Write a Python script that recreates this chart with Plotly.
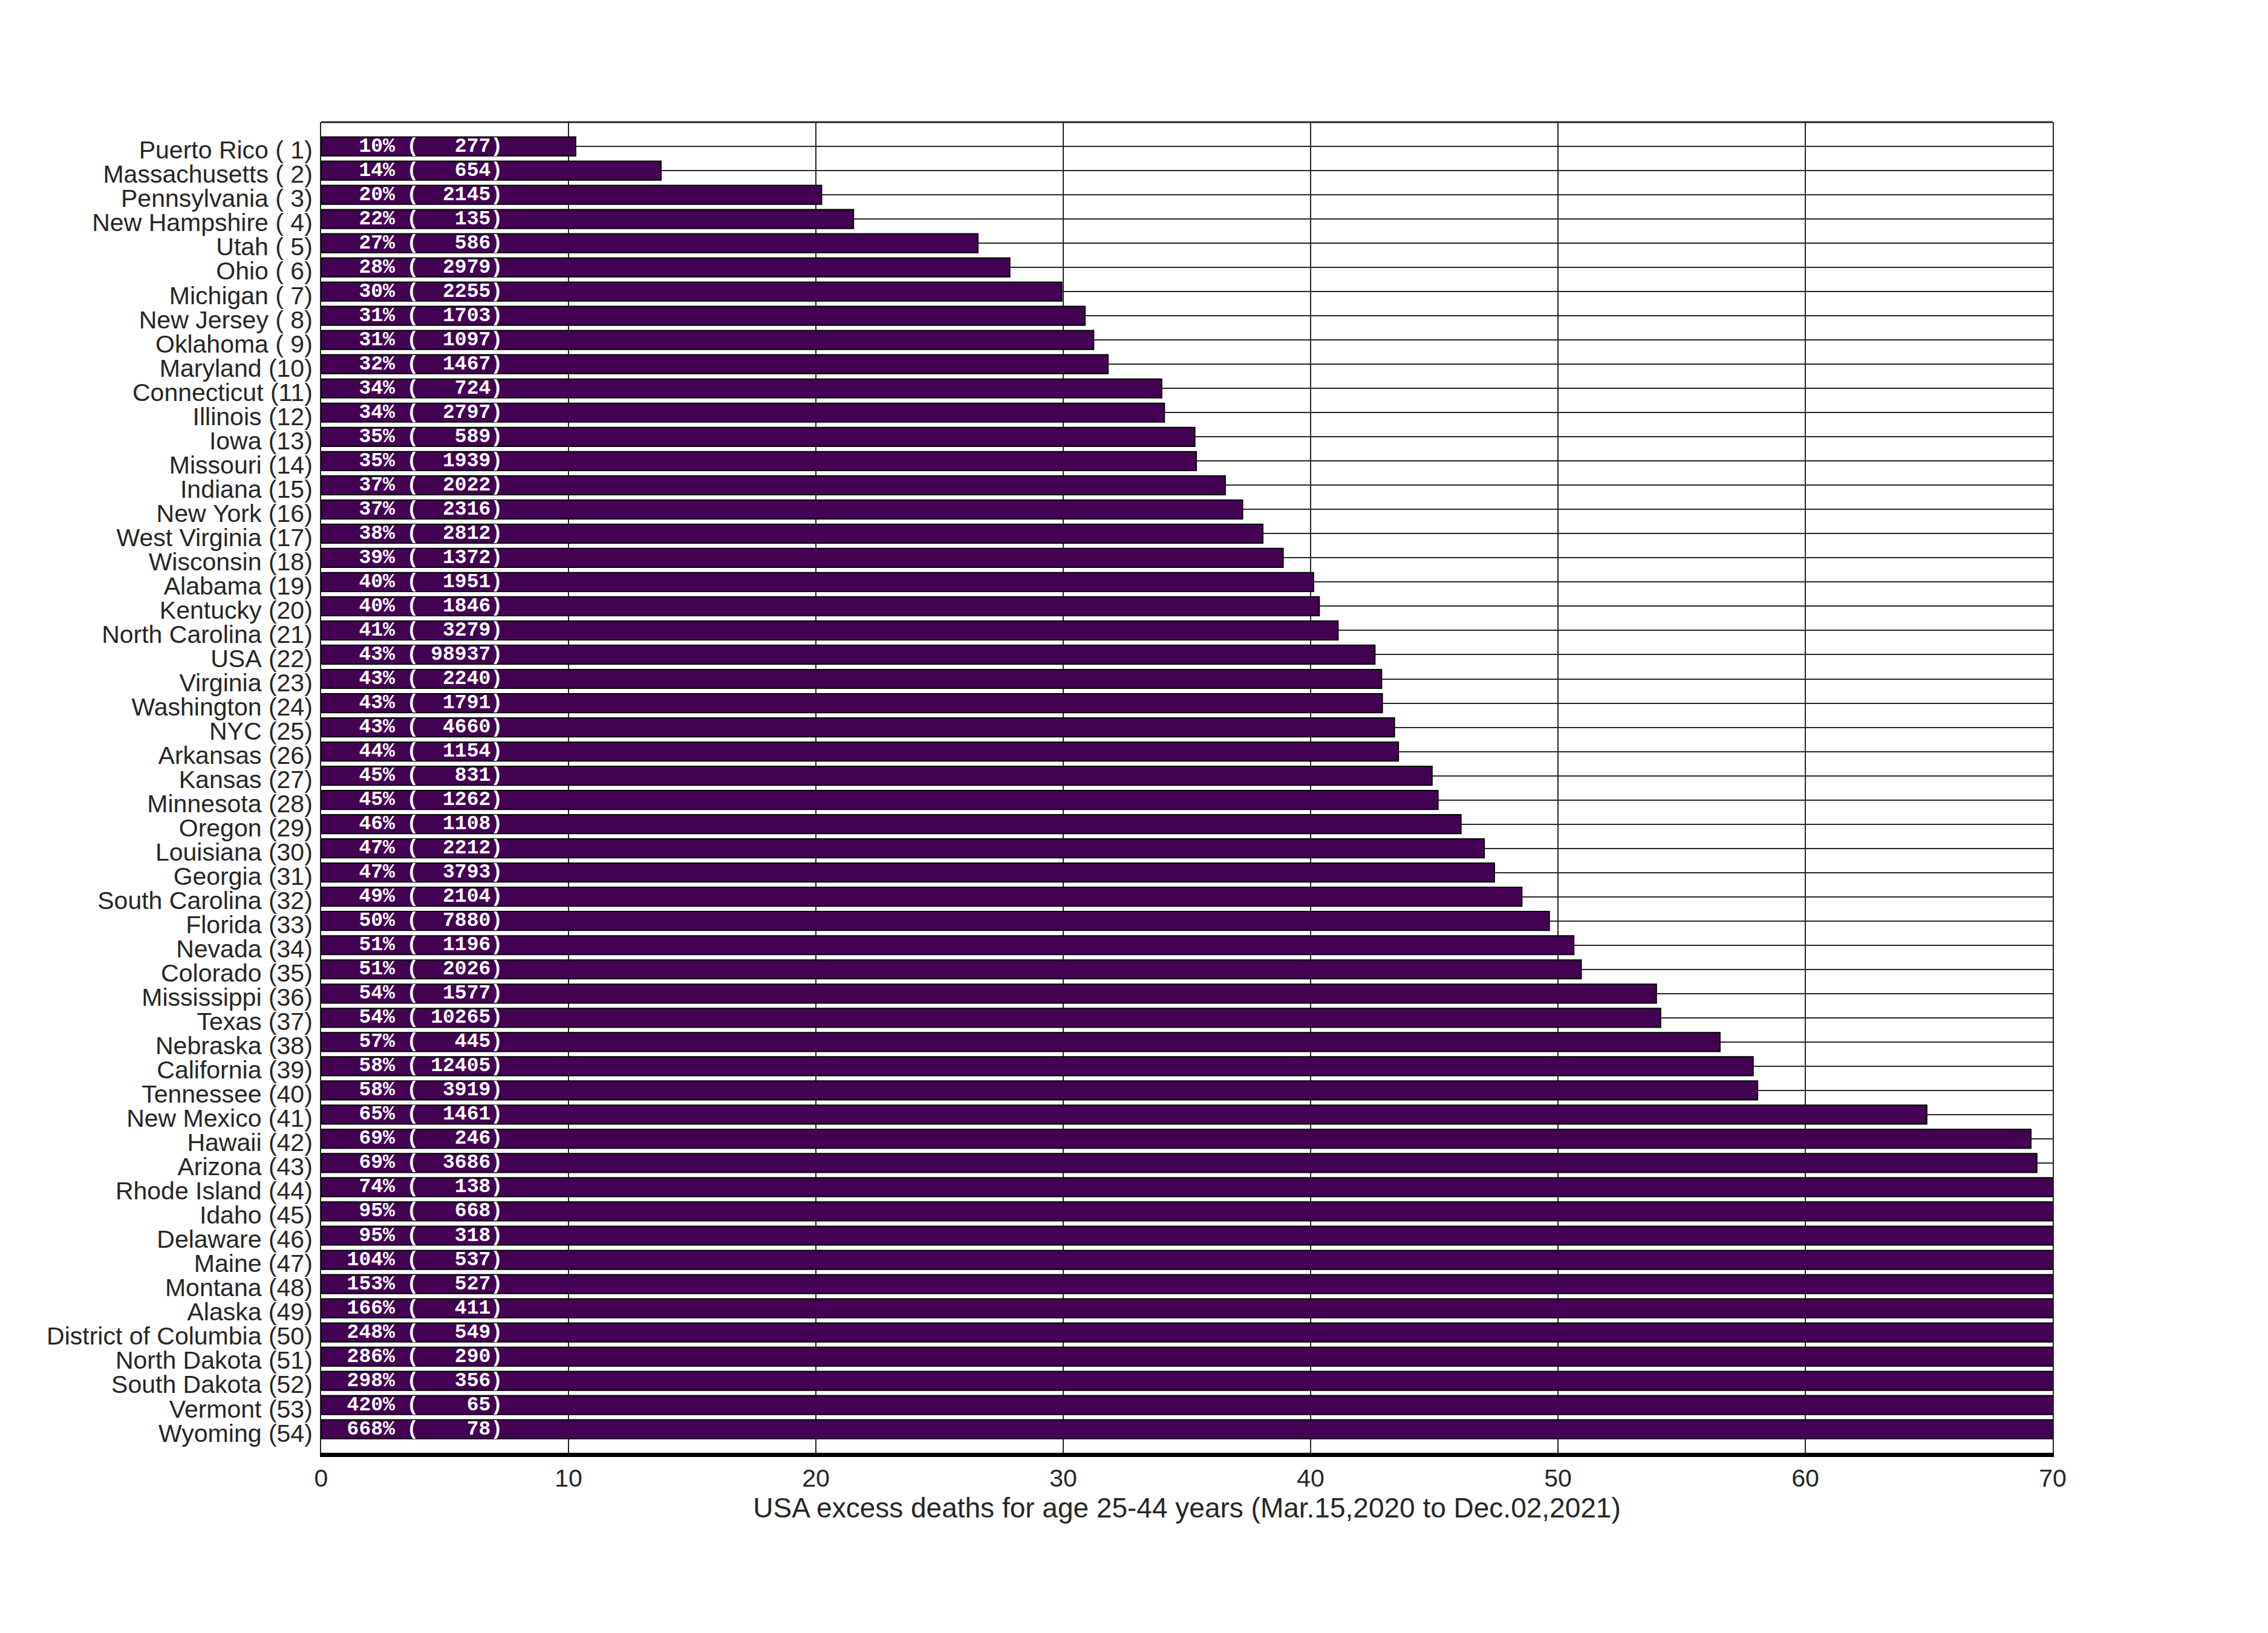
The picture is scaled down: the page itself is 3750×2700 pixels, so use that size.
import plotly.graph_objects as go

states = ["Puerto Rico", "Massachusetts", "Pennsylvania", "New Hampshire", "Utah", "Ohio",
          "Michigan", "New Jersey", "Oklahoma", "Maryland", "Connecticut", "Illinois", "Iowa",
          "Missouri", "Indiana", "New York", "West Virginia", "Wisconsin", "Alabama", "Kentucky",
          "North Carolina", "USA", "Virginia", "Washington", "NYC", "Arkansas", "Kansas",
          "Minnesota", "Oregon", "Louisiana", "Georgia", "South Carolina", "Florida", "Nevada",
          "Colorado", "Mississippi", "Texas", "Nebraska", "California", "Tennessee", "New Mexico",
          "Hawaii", "Arizona", "Rhode Island", "Idaho", "Delaware", "Maine", "Montana", "Alaska",
          "District of Columbia", "North Dakota", "South Dakota", "Vermont", "Wyoming"]

excess_pct = [10.29, 13.74, 20.23, 21.52, 26.55, 27.84, 29.94, 30.88, 31.23, 31.81, 33.98,
              34.09, 35.32, 35.38, 36.55, 37.25, 38.07, 38.89, 40.12, 40.35, 41.11, 42.6,
              42.87, 42.9, 43.39, 43.55, 44.91, 45.15, 46.08, 47.02, 47.43, 48.54, 49.65,
              50.64, 50.94, 53.98, 54.15, 56.55, 57.89, 58.07, 64.91, 69.12, 69.36, 74, 95,
              95, 104, 153, 166, 248, 286, 298, 420, 668]

pct_labels = [10, 14, 20, 22, 27, 28, 30, 31, 31, 32, 34, 34, 35, 35, 37, 37, 38, 39, 40, 40,
              41, 43, 43, 43, 43, 44, 45, 45, 46, 47, 47, 49, 50, 51, 51, 54, 54, 57, 58, 58,
              65, 69, 69, 74, 95, 95, 104, 153, 166, 248, 286, 298, 420, 668]

deaths = [277, 654, 2145, 135, 586, 2979, 2255, 1703, 1097, 1467, 724, 2797, 589, 1939, 2022,
          2316, 2812, 1372, 1951, 1846, 3279, 98937, 2240, 1791, 4660, 1154, 831, 1262, 1108,
          2212, 3793, 2104, 7880, 1196, 2026, 1577, 10265, 445, 12405, 3919, 1461, 246, 3686,
          138, 668, 318, 537, 527, 411, 549, 290, 356, 65, 78]

x_ticks = [0, 10, 20, 30, 40, 50, 60, 70]
x_title = "USA excess deaths for age 25-44 years (Mar.15,2020 to Dec.02,2021)"

NB = "\u00a0"
ylabels = [f"{s} ({i + 1:2d})" for i, s in enumerate(states)]
bar_text = [(NB * 2 + f"{p:3d}% ({d:6d})").replace(" ", NB) for p, d in zip(pct_labels, deaths)]

GRID = "#262626"

fig = go.Figure()
fig.add_trace(go.Bar(
    x=excess_pct, y=ylabels, orientation="h",
    width=0.78,
    marker=dict(color="#440154", line=dict(color="black", width=2)),
    text=bar_text, textposition="inside", insidetextanchor="start",
    textangle=0, constraintext="none",
    insidetextfont=dict(family="Liberation Mono", size=33, color="white", weight="bold"),
    hoverinfo="skip",
))

fig.update_layout(
    width=3750, height=2700,
    margin=dict(l=531, r=356, t=202, b=298, pad=0),
    plot_bgcolor="white", paper_bgcolor="white",
    showlegend=False,
    font=dict(family="Liberation Sans, Arial, sans-serif", size=41, color="#262626"),
    shapes=[dict(type="line", xref="paper", yref="paper", x0=0, x1=1, y0=1, y1=1,
                 line=dict(color=GRID, width=3))],
)

fig.update_xaxes(
    range=[0, 70], tickvals=x_ticks, ticks="", showgrid=True, gridcolor=GRID, gridwidth=1.5,
    zeroline=False, showline=True, linecolor="black", linewidth=7,
    tickfont=dict(size=41, color="#262626"),
    title=dict(text=x_title, font=dict(size=46, color="#262626"), standoff=12),
)
fig.update_yaxes(
    type="category", categoryorder="array", categoryarray=ylabels,
    tickmode="array", tickvals=ylabels, ticktext=[l.replace(" ", NB) for l in ylabels],
    range=[53.97, -1], ticks="", showgrid=True, gridcolor=GRID, gridwidth=1.5,
    zeroline=False, showline=True, linecolor=GRID, linewidth=2, mirror=True,
    tickfont=dict(size=41, color="#262626"), ticklabelstandoff=4, ticklabelshift=-6,
)

fig.write_html("out.html")
